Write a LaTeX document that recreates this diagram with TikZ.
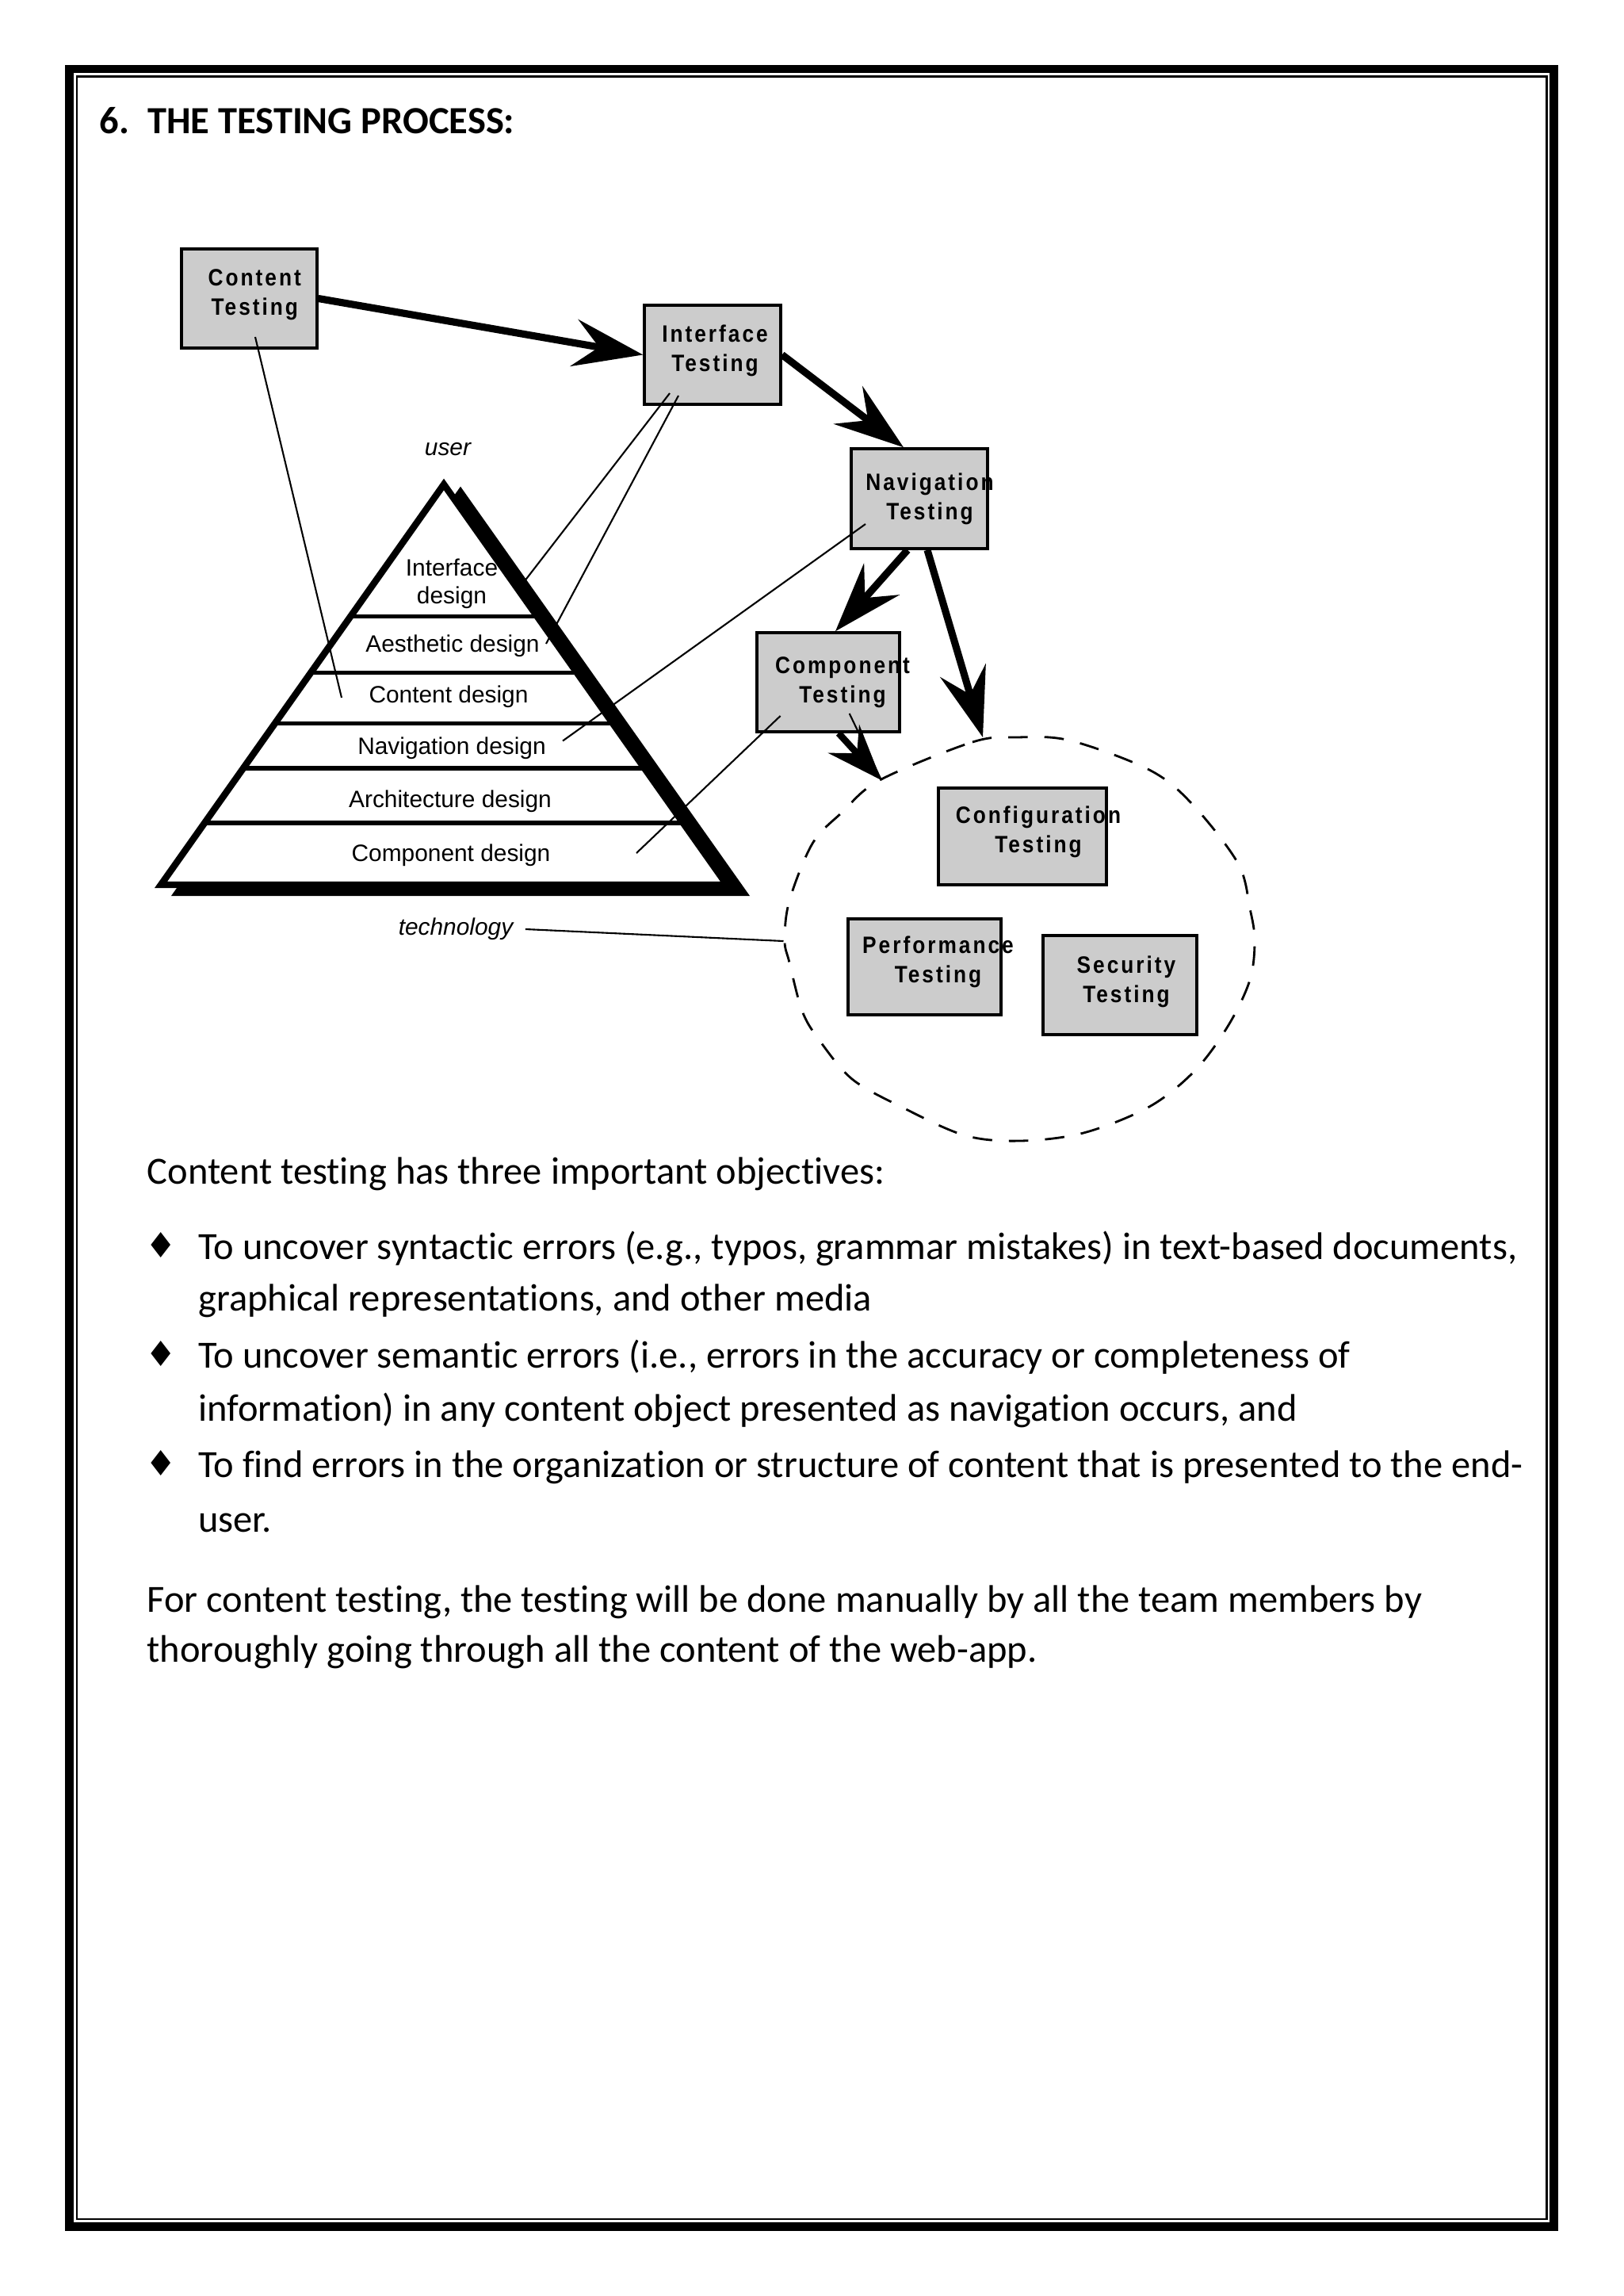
\documentclass[tikz,border=0pt]{standalone}
\usepackage{fontspec}
\setmainfont[Ligatures=NoCommon]{Carlito}
\newfontfamily\figfont{Liberation Sans}
\newfontfamily\boxfont[LetterSpace=10,FakeStretch=0.88]{Liberation Sans}
\newfontfamily\symfont{DejaVu Sans}
\usetikzlibrary{arrows.meta,calc,positioning}

\tikzset{
  testbox/.style={draw,line width=1pt,fill=gray!40,inner sep=0pt},
  boxtext/.style={font=\boxfont\bfseries\fontsize{8.5}{10.5}\selectfont,align=center,inner sep=0pt},
  layertext/.style={font=\figfont\fontsize{8.5}{10}\selectfont,align=center,inner sep=0pt},
  thinline/.style={line width=0.6pt},
  flow/.style={line width=2.6pt,-{Stealth[length=25pt,width=17pt,inset=9pt]}},
  blobline/.style={line width=0.8pt,dash pattern=on 7pt off 6pt},
  bodytext/.style={anchor=base west,inner sep=0pt,font=\fontsize{13.8}{16}\selectfont},
}
\newcommand{\bulletmark}{{\symfont\fontsize{12.5}{14}\selectfont ♦}}

\begin{document}
\begin{tikzpicture}
\useasboundingbox (0,0) rectangle (20.48,-28.96);
\fill[white] (0,0) rectangle (20.48,-28.96);

% page frame
\draw[line width=3.1pt] (0.875,-0.87) rectangle (19.605,-28.085);
\draw[line width=0.6pt] (0.97,-0.965) rectangle (19.515,-27.99);

\node[anchor=base west,inner sep=0pt,font=\bfseries\fontsize{13.8}{16}\selectfont] (title) at (1.25,-1.69) {6.\hspace{6.5pt}THE TESTING PROCESS:};

% pyramid
\coordinate (apex) at (5.60,-6.11);
\coordinate (baseL) at (2.03,-11.16);
\coordinate (baseR) at (9.17,-11.16);
\filldraw[line width=2.4pt,line join=miter] ([shift={(0.21,-0.10)}]apex) -- ([shift={(0.21,-0.10)}]baseL) -- ([shift={(0.21,-0.10)}]baseR) -- cycle;
\draw[line width=2.4pt,line join=miter,fill=white] (apex) -- (baseL) -- (baseR) -- cycle;
\foreach \t in {0.330,0.470,0.597,0.709,0.846}
  \draw[line width=1.6pt] ($(apex)!\t!(baseL)$) -- ($(apex)!\t!(baseR)$);

\node[layertext] (lint) at (5.70,-7.36) {Interface\\design};
\node[layertext] (laes) at (5.71,-8.15) {Aesthetic design};
\node[layertext] (lcon) at (5.66,-8.79) {Content design};
\node[layertext] (lnav) at (5.70,-9.44) {Navigation design};
\node[layertext] (larc) at (5.68,-10.11) {Architecture design};
\node[layertext] (lcom) at (5.69,-10.79) {Component design};

\node[layertext,font=\figfont\itshape\fontsize{8.5}{10}\selectfont] (user) at (5.65,-5.67) {user};
\node[layertext,font=\figfont\itshape\fontsize{8.5}{10}\selectfont] (tech) at (5.75,-11.72) {technology};

% testing boxes
\node[testbox,minimum width=1.71cm,minimum height=1.25cm,label={[boxtext,xshift=0.07cm,yshift=0.05cm]center:Content\\Testing}] (ctest) at (3.143,-3.765) {};
\node[testbox,minimum width=1.72cm,minimum height=1.25cm,label={[boxtext,xshift=0.03cm,yshift=0.05cm]center:Interface\\Testing}] (itest) at (8.99,-4.475) {};
\node[testbox,minimum width=1.72cm,minimum height=1.26cm,label={[boxtext,xshift=0.13cm]center:Navigation\\Testing}] (ntest) at (11.60,-6.29) {};
\node[testbox,minimum width=1.80cm,minimum height=1.25cm,label={[boxtext,xshift=0.18cm]center:Component\\Testing}] (mtest) at (10.45,-8.605) {};
\node[testbox,minimum width=2.12cm,minimum height=1.22cm,label={[boxtext,xshift=0.20cm,yshift=0.06cm]center:Configuration\\Testing}] (cftest) at (12.90,-10.55) {};
\node[testbox,minimum width=1.93cm,minimum height=1.21cm,label={[boxtext,xshift=0.17cm,yshift=0.06cm]center:Performance\\Testing}] (ptest) at (11.665,-12.195) {};
\node[testbox,minimum width=1.94cm,minimum height=1.25cm,label={[boxtext,xshift=0.08cm,yshift=0.045cm]center:Security\\Testing}] (stest) at (14.13,-12.425) {};

% dashed group
\draw[blobline] plot[smooth cycle,tension=0.55] coordinates {(11.10,-9.84) (12.27,-9.36) (12.83,-9.30) (13.50,-9.34) (14.50,-9.71) (15.04,-10.14) (15.62,-10.89) (15.77,-11.46) (15.83,-11.86) (15.77,-12.36) (15.50,-12.93) (15.08,-13.50) (14.50,-13.96) (13.67,-14.29) (12.87,-14.39) (12.17,-14.32) (11.37,-13.96) (10.75,-13.61) (10.33,-13.11) (10.12,-12.75) (9.96,-12.14) (9.90,-11.86) (9.96,-11.36) (10.25,-10.64) (10.62,-10.25)};
\coordinate (blobtop) at (12.40,-9.30);
\coordinate (blobnw) at (11.12,-9.84);
\coordinate (blobwest) at (9.885,-11.87);

% links to the design layers
\coordinate (cin) at ([shift={(0.077,-0.485)}]ctest.center);
\coordinate (cout) at (4.31,-8.80);
\coordinate (iin1) at ([shift={(-0.54,-0.485)}]itest.center);
\coordinate (iout1) at (6.58,-7.38);
\coordinate (iin2) at ([shift={(-0.43,-0.515)}]itest.center);
\coordinate (iout2) at (6.89,-8.12);
\coordinate (nin) at ([shift={(-0.68,-0.32)}]ntest.center);
\coordinate (nout) at (7.10,-9.345);
\coordinate (min) at ([shift={(-0.604,-0.425)}]mtest.center);
\coordinate (mout) at (8.03,-10.76);
\coordinate (mblob) at ([shift={(0.267,-0.395)}]mtest.center);

\draw[thinline] (cin) -- (cout);
\draw[thinline] (iin1) -- (iout1);
\draw[thinline] (iin2) -- (iout2);
\draw[thinline] (nin) -- (nout);
\draw[thinline] (min) -- (mout);
\draw[thinline] (mblob) -- (blobnw);
\draw[thinline] ([xshift=0.15cm]tech.east) -- (blobwest);

% flow arrows
\draw[flow] (ctest.east) -- (itest.west);
\draw[flow] (itest.east) -- ([xshift=-0.2cm]ntest.north);
\draw[flow] ([xshift=-0.15cm]ntest.south) -- ([xshift=0.09cm]mtest.north);
\draw[flow] ([xshift=0.10cm]ntest.south) -- (blobtop);
\draw[line width=2.4pt,-{Stealth[length=20pt,width=15pt,inset=7pt]}] ([xshift=0.13cm]mtest.south) -- (blobnw);

% text below
\node[bodytext] (intro) at (1.85,-14.93) {Content testing has three important objectives:};

\node[bodytext] (b1) at (1.83,-15.86) {\bulletmark};
\node[bodytext] (t1a) at (2.495,-15.88) {To uncover syntactic errors (e.g., typos, grammar mistakes) in text-based documents,};
\node[bodytext] (t1b) at (2.495,-16.53) {graphical representations, and other media};

\node[bodytext] (b2) at (1.83,-17.23) {\bulletmark};
\node[bodytext] (t2a) at (2.495,-17.25) {To uncover semantic errors (i.e., errors in the accuracy or completeness of};
\node[bodytext] (t2b) at (2.495,-17.92) {information) in any content object presented as navigation occurs, and};

\node[bodytext] (b3) at (1.83,-18.61) {\bulletmark};
\node[bodytext] (t3a) at (2.495,-18.63) {To find errors in the organization or structure of content that is presented to the end-};
\node[bodytext] (t3b) at (2.495,-19.32) {user.};

\node[bodytext] (p1) at (1.85,-20.33) {For content testing, the testing will be done manually by all the team members by};
\node[bodytext] (p2) at (1.85,-20.96) {thoroughly going through all the content of the web-app.};
\end{tikzpicture}
\end{document}
